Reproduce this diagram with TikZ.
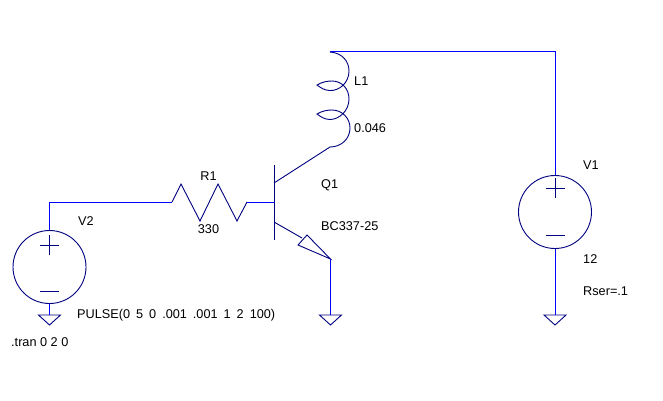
\documentclass[tikz,border=0pt]{standalone}
\usepackage{fontspec}
\setmainfont{Liberation Sans}
\definecolor{wirecol}{RGB}{0,0,255}
\definecolor{partcol}{RGB}{0,0,128}
\tikzset{
  wire/.style={wirecol, line width=1pt},
  part/.style={partcol, line width=0.9pt},
  source/.style={circle, draw=partcol, line width=0.9pt, minimum size=73pt, inner sep=0pt},
  lbl/.style={font=\fontsize{12.7}{15}\selectfont, text=black, inner sep=0pt, anchor=west},
  gnd/.pic={\draw[part] (-11,0) -- (11,0) -- (0,10) -- cycle;}
}
\begin{document}
\begin{tikzpicture}[x=1pt, y=-1pt]
    \useasboundingbox (0,0) rectangle (663,400);

    % Sources
    \node[source] (V2) at (49.5,267) {};
    \node[source] (V1) at (555,212) {};
    \draw[part] (40,245) -- (59,245) (49.5,235) -- (49.5,255) (40,291) -- (59,291);
    \draw[part] (545.5,188) -- (564.5,188) (555,178) -- (555,198) (545.5,235) -- (564.5,235);

    % Grounds
    \coordinate (G2) at (49.5,315);
    \coordinate (GQ) at (330.5,315);
    \coordinate (G1) at (555,315);
    \pic at (G2) {gnd};
    \pic at (GQ) {gnd};
    \pic at (G1) {gnd};

    % Resistor
    \coordinate (R1a) at (172,202);
    \coordinate (R1b) at (247,202);
    \draw[part] (R1a) -- (181,184) -- (200,221) -- (218,184) -- (237,221) -- (R1b);

    % Transistor
    \coordinate (Qb) at (274,202);
    \coordinate (Qc) at (330,147);
    \coordinate (Qe) at (330.5,259);
    \draw[part] (274,165) -- (274,240);
    \draw[part] (274,183) -- (Qc);
    \draw[part] (274,222) -- (302,238);
    \draw[part] (Qe) -- (298,245) -- (307,235) -- cycle;

    % Inductor
    \coordinate (L1a) at (330,52);
    \draw[part] (L1a) .. controls (343,53) and (349,62) .. (349,71)
        .. controls (349,83) and (339,91) .. (330,90.5)
        .. controls (325,90.5) and (321,88) .. (317,85)
        .. controls (322,82) and (327,81) .. (332,81)
        .. controls (342,81) and (349,89) .. (349,99)
        .. controls (349,111) and (339,119.5) .. (330,119.5)
        .. controls (325,119.5) and (321,117) .. (317,114)
        .. controls (322,111) and (327,110) .. (332,110)
        .. controls (342,110) and (350,118) .. (350,128)
        .. controls (350,139) and (341,147) .. (Qc);

    % Wires
    \draw[wire] (V2.north) |- (R1a);
    \draw[wire] (V2.south) -- (G2);
    \draw[wire] (R1b) -- (Qb);
    \draw[wire] (Qe) -- (GQ);
    \draw[wire] (L1a) ++(0,-1) -- ++(225,0) -- (V1.north);
    \draw[wire] (V1.south) -- (G1);

    % Labels
    \node[lbl] (tL1) at (354,81) {L1};
    \node[lbl] (tL1v) at (354,128) {0.046};
    \node[lbl, anchor=center] (tR1) at (208.5,176) {R1};
    \node[lbl, anchor=center] (tR1v) at (208.5,229) {330};
    \node[lbl] (tQ1) at (321,185) {Q1};
    \node[lbl] (tQ1v) at (321,226) {BC337-25};
    \node[lbl] (tV2) at (78,221) {V2};
    \node[lbl] (tV2v) at (77,315) {\spaceskip=6pt PULSE(0 5 0 .001 .001 1 2 100)};
    \node[lbl] (tV1) at (583,165) {V1};
    \node[lbl] (tV1v) at (583,259) {12};
    \node[lbl] (tV1r) at (583,291) {Rser=.1};
    \node[lbl] (ttran) at (11,342) {.tran 0 2 0};
\end{tikzpicture}
\end{document}
